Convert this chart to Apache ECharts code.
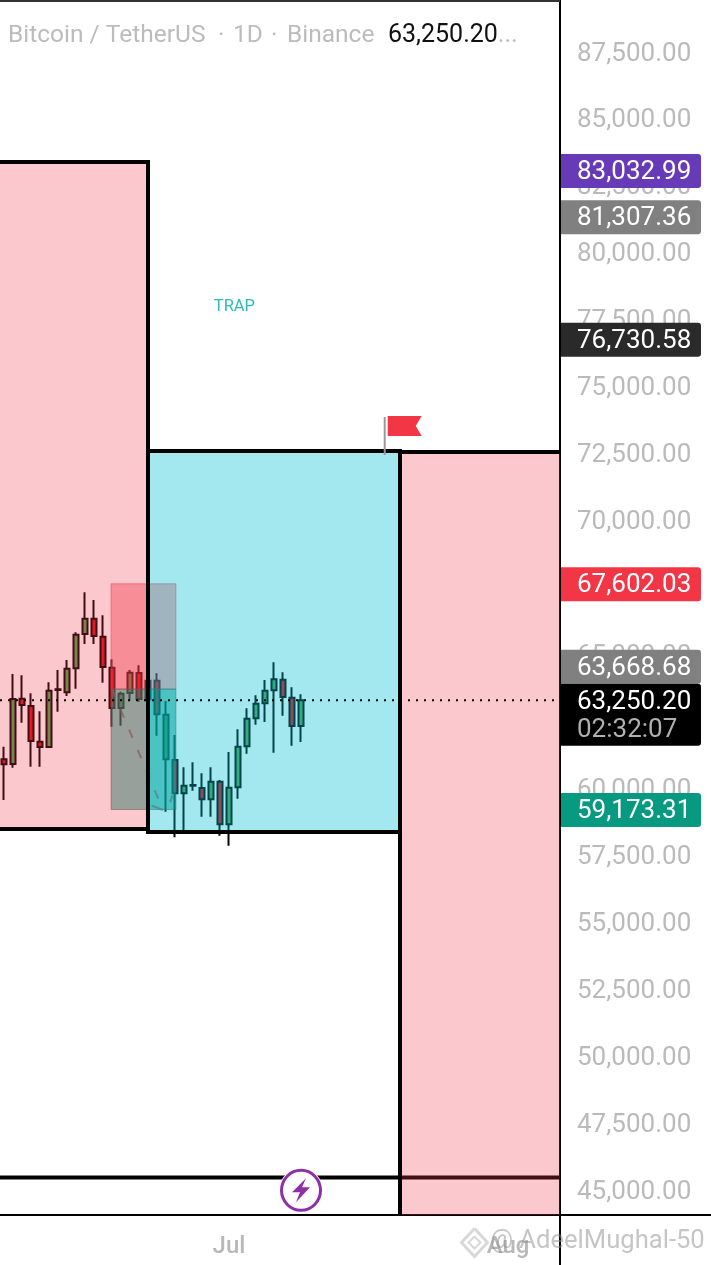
<!DOCTYPE html>
<html><head><meta charset="utf-8">
<style>html,body{margin:0;padding:0;background:#fff}#c{width:711px;height:1265px}</style>
<script src="https://cdn.jsdelivr.net/npm/echarts@6/dist/echarts.min.js"></script>
</head><body><div id="c"></div>
<script>
// day index, open, close, low, high
const candles = [
[0,61046,60859,59527,61519],[1,60872,63299,60735,64233],[2,63312,63075,62415,64183],[3,63038,61731,60772,63511],
[4,61706,61506,60772,62839],[5,61506,63610,61506,63922],[6,63635,63660,62826,64382],[7,63548,64432,63411,64756],
[8,64445,65702,63685,65789],[9,65727,66299,65353,67283],[10,66299,65652,65353,66997],[11,65627,64494,63909,66424],
[12,64469,62963,62266,64781],[13,62963,63498,62303,63573],[14,63523,64283,63237,64382],[15,64270,63299,63200,64557],
[16,63287,63984,63200,64009],[17,63984,62727,61930,64258],[18,61046,62714,59091,63225],[19,61021,59776,58133,61955],
[20,59776,60063,58345,60747],[21,60063,60087,59876,60934],[22,59975,59552,58905,60523],[23,59552,60212,58905,60747],
[24,60212,58618,58195,60274],[25,58618,59988,57822,61320],[26,60000,61519,59577,62166],[27,61531,62565,61257,62951],
[28,62577,63125,62341,63436],[29,63137,63610,62440,64009],[30,63623,64034,61295,64669],[31,64021,63374,62677,64295],
[32,63349,62291,61556,63735],[33,62291,63250.20,61693,63473]];
const priceTicks = [45000,47500,50000,52500,55000,57500,60000,62500,65000,67500,70000,72500,75000,77500,80000,82500,85000,87500];
const monthTicks = [25,56];
const monthNames = ['Jul','Aug'];
const pinkBoxes = [[-10,16,83355,58444],[44,70,72524,42000]];
const cyanBoxes = [[16,44,72561,58332]];
const riskZone = [[11.9,19.1,67602.03,63668.68]];
const rewardZone = [[11.9,19.1,63668.68,59173.31]];
const tradePath = [[12,63673],[17.67,59154]];
const arrowLeft = [[17.67,59154],[16.4,59320]];
const arrowRight = [[18.45,59450],[18.7,59700]];
const levelLine = [[-10,45430],[61.7,45430]];
const lastPrice = 63250.20;
const countdown = '02:32:07';
const badgePrices = [83032.99,81307.36,76730.58,67602.03,63668.68,59173.31,63250.20];
const badgeColors = ['#673ab7','#808080','#2a2a2a','#f23645','#808080','#089981','#000000'];
const noteText = [[25.6,77960,'TRAP']];
const flagPoint = [[42.3,72412]];
const boltPoint = [[33,44950]];
const headerParts = ['Bitcoin / TetherUS','\u00b7','1D','\u00b7','Binance'];
const headerLeft = [8,218,233,271,287];

const X_MIN = -4/9, X_MAX = 556/9;
const FONT = 'Roboto';
const fmt = v => v.toLocaleString('en-US',{minimumFractionDigits:2,maximumFractionDigits:2});

function boxRender(fill, stroke, lw){
  return (p, api) => {
    const a = api.coord([api.value(0), api.value(2)]);
    const b = api.coord([api.value(1), api.value(3)]);
    return {type:'rect', shape:{x:a[0], y:a[1], width:b[0]-a[0], height:b[1]-a[1]},
      style:{fill, stroke, lineWidth:lw}};
  };
}
function boxSeries(name, data, fill, stroke, lw, z){
  return {type:'custom', name, data, z, clip:true, silent:true, encode:{x:[0,1], y:[2,3]},
    renderItem: boxRender(fill, stroke, lw)};
}

const chart = echarts.init(document.getElementById('c'), null, {renderer:'canvas'});
chart.setOption({
  animation:false,
  backgroundColor:'#ffffff',
  title:headerParts.map((t,i)=>({text:t, left:headerLeft[i], top:23, padding:0,
     textStyle:{fontFamily:FONT, fontSize:24.5, fontWeight:'normal', color:'#bcbcbc'}})).concat([
    {text:'{a|63,250.20}{b|...}', left:388, top:23, padding:0,
     textStyle:{fontFamily:FONT, fontSize:25, fontWeight:'normal',
       rich:{a:{fontFamily:FONT, fontSize:25, color:'#111111'}, b:{fontFamily:FONT, fontSize:25, color:'#bcbcbc'}}}}
  ]),
  grid:{left:0, right:151, top:0, bottom:50, containLabel:false},
  xAxis:{type:'value', min:X_MIN, max:X_MAX, splitLine:{show:false},
    axisLine:{show:true, onZero:false, lineStyle:{color:'#000', width:2}},
    axisTick:{show:false},
    axisLabel:{customValues:monthTicks, margin:20,
      fontFamily:FONT, fontSize:24, fontWeight:500, color:'#b8b8b8',
      formatter:v => monthNames[monthTicks.indexOf(v)] || ''}},
  yAxis:{type:'value', position:'right', min:44029, max:89405, splitLine:{show:false},
    axisLine:{show:true, onZero:false, lineStyle:{color:'#000', width:2}},
    axisTick:{show:false},
    axisLabel:{customValues:priceTicks, margin:17, align:'left', verticalAlign:'top', lineHeight:6,
      fontFamily:FONT, fontSize:26, color:'#bababa', formatter:v => fmt(v)}},
  graphic:[
    {type:'line', shape:{x1:0,y1:1,x2:560,y2:1}, style:{stroke:'#333',lineWidth:2}, z:50},
    {type:'line', shape:{x1:560,y1:1215,x2:711,y2:1215}, style:{stroke:'#000',lineWidth:2}, z:50},
    {type:'line', shape:{x1:560,y1:1215,x2:560,y2:1265}, style:{stroke:'#000',lineWidth:2}, z:50},
    {type:'text', left:490, top:1229, z:60,
      style:{text:'@ AdeelMughal-50', fontFamily:FONT, fontSize:25.6, fill:'rgba(140,140,140,0.5)'}},
    {type:'group', left:459, top:1226, z:60, children:[
      {type:'polyline', shape:{points:[[13,0],[26,14],[13,28],[0,14],[13,0]]}, style:{fill:'none',stroke:'rgba(190,190,190,0.6)',lineWidth:3}},
      {type:'polyline', shape:{points:[[13,8],[19,14],[13,20],[7,14],[13,8]]}, style:{fill:'none',stroke:'rgba(190,190,190,0.6)',lineWidth:2}}
    ]}
  ],
  series:[
    {type:'candlestick', name:'BTCUSDT', data:candles, z:2, barWidth:6, clip:true,
     encode:{x:0, y:[1,2,3,4]},
     itemStyle:{color:'#50a050', color0:'#e00c16', borderColor:'#000', borderColor0:'#000', borderColorDoji:'#000', borderWidth:2}},
    {type:'line', name:'level', data:levelLine, z:3, symbol:'none', silent:true,
     lineStyle:{color:'#000', width:4}},
    boxSeries('risk', riskZone, 'rgba(242,54,69,0.4)', 'rgba(242,54,69,0.5)', 1, 4),
    boxSeries('reward', rewardZone, 'rgba(8,153,129,0.55)', 'rgba(60,80,80,0.5)', 1, 4),
    {type:'line', name:'path', data:tradePath, z:5, symbol:'none', silent:true,
     lineStyle:{color:'rgba(120,95,95,0.7)', width:2, type:[9,13]}},
    {type:'line', name:'arrowL', data:arrowLeft, z:5, symbol:'none', silent:true, lineStyle:{color:'rgba(120,95,95,0.7)', width:2}},
    {type:'line', name:'arrowR', data:arrowRight, z:5, symbol:'none', silent:true, lineStyle:{color:'rgba(120,95,95,0.7)', width:2}},
    boxSeries('zone-pink', pinkBoxes, 'rgba(242,54,69,0.27)', '#000', 4, 6),
    boxSeries('zone-cyan', cyanBoxes, 'rgba(0,188,212,0.36)', '#000', 4, 6),
    {type:'line', name:'last', data:[[X_MIN,lastPrice],[X_MAX,lastPrice]], z:8, symbol:'none', silent:true,
     lineStyle:{color:'#000', width:2, type:[2,6]}},
    {type:'custom', name:'notes', data:noteText, z:9, silent:true, encode:{x:0,y:1},
     renderItem:(p,api)=>{
       const c = api.coord([api.value(0), api.value(1)]);
       return {type:'text', x:c[0], y:c[1], style:{text:noteText[p.dataIndex][2], fontFamily:FONT, fontSize:16.5,
         fill:'#2fb8c0', align:'center', verticalAlign:'middle'}};
     }},
    {type:'custom', name:'flag', data:flagPoint, z:9, silent:true, clip:false, encode:{x:0,y:1},
     renderItem:(p,api)=>{
       const c = api.coord([api.value(0), api.value(1)]);
       return {type:'group', x:c[0], y:c[1], children:[
         {type:'line', shape:{x1:0,y1:0,x2:0,y2:-38}, style:{stroke:'#9a9a9a', lineWidth:2}},
         {type:'polygon', shape:{points:[[3,-39],[37,-39],[31,-29],[37,-19],[3,-19]]}, style:{fill:'#f23645'}}
       ]};
     }},
    {type:'custom', name:'bolt', data:boltPoint, z:9, silent:true, clip:false, encode:{x:0,y:1},
     renderItem:(p,api)=>{
       const c = api.coord([api.value(0), api.value(1)]);
       return {type:'group', x:c[0], y:c[1], children:[
         {type:'circle', shape:{cx:0,cy:0,r:22}, style:{fill:'#fff'}},
         {type:'ellipse', shape:{cx:0,cy:0,rx:19.5,ry:20}, style:{fill:'#fff', stroke:'#8e2ea8', lineWidth:3}},
         {type:'polygon', shape:{points:[[5,-12],[-9,2],[-1,2],[-5,12],[9,-3],[1,-3]]}, style:{fill:'#8e2ea8'}}
       ]};
     }},
    {type:'custom', name:'badges', data:badgePrices.map(v=>[v]), z:20, silent:true, clip:false, encode:{y:0},
     renderItem:(p,api)=>{
       const v = api.value(0);
       const c = api.coord([X_MAX, v]);
       const lastY = api.coord([X_MAX, lastPrice])[1];
       const isLast = v === lastPrice;
       // a tag that would collide with the last-price tag is pushed just above it
       const y = (!isLast && Math.abs(c[1] - lastY) < 34) ? lastY - 34 : c[1];
       const kids = [
         {type:'rect', shape:{x:1, y:-16.5, width:140, height:isLast?62:34, r:[0,3,3,0]}, style:{fill:badgeColors[p.dataIndex]}},
         {type:'text', x:17, y:2, style:{text:fmt(v), fontFamily:FONT, fontSize:26, fill:'#fff', verticalAlign:'middle'}}
       ];
       if(isLast) kids.push({type:'text', x:17, y:30, style:{text:countdown, fontFamily:FONT, fontSize:26, fill:'#b0b0b0', verticalAlign:'middle'}});
       return {type:'group', x:c[0], y, children:kids};
     }}
  ]
});
</script></body></html>
